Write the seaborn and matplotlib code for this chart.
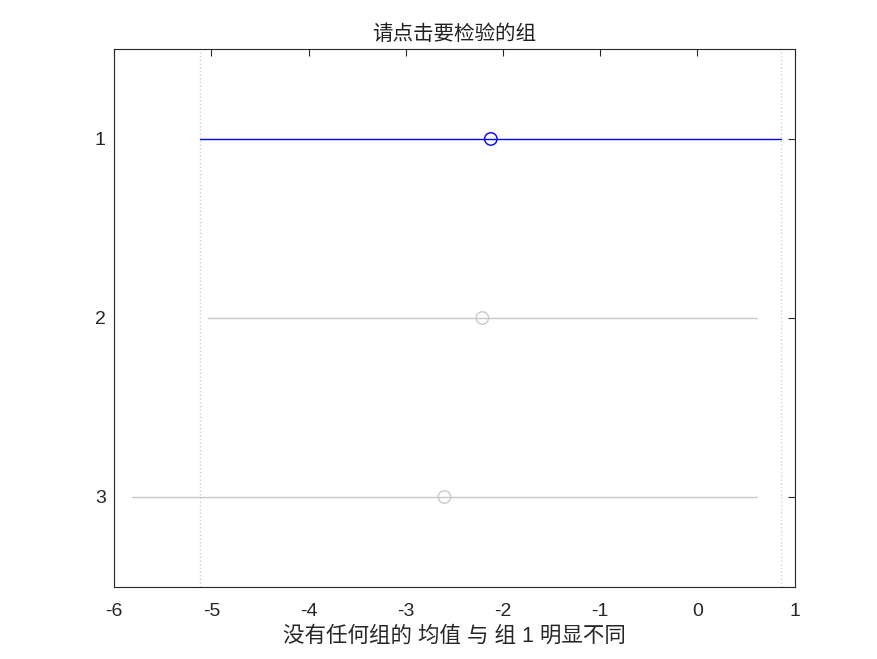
import matplotlib
matplotlib.use("Agg")
import matplotlib.pyplot as plt
import seaborn as sns
import pandas as pd

# 多重比较结果 (组均值估计及置信区间)
groups = [1, 2, 3]
means = [-2.125, -2.212, -2.602]
lower = [-5.113, -5.038, -5.816]
upper = [0.863, 0.613, 0.613]
selected = 1
title = "请点击要检验的组"
xlabel = "没有任何组的 均值 与 组 1 明显不同"
xticks = [-6, -5, -4, -3, -2, -1, 0, 1]

sns.set_style("white")
plt.rcParams['font.family'] = ['Liberation Sans', 'Noto Sans CJK SC', 'DejaVu Sans']

df = pd.DataFrame({"group": groups, "mean": means, "lo": lower, "hi": upper})
df["color"] = ["blue" if g == selected else "#c8c8c8" for g in df["group"]]

fig = plt.figure(figsize=(8.78, 6.59), dpi=100)
ax = fig.add_axes([0.13, 0.11, 0.775, 0.815])

# 区间线
for _, r in df.iterrows():
    ax.plot([r["lo"], r["hi"]], [r["group"], r["group"]], color=r["color"], linewidth=1)

# 均值点
sns.scatterplot(data=df, x="mean", y="group", hue="color",
                palette={c: c for c in df["color"].unique()},
                marker="o", s=80, linewidth=1,
                legend=False, ax=ax)
for coll in ax.collections:
    coll.set_facecolor("none")
    coll.set_edgecolor([c for c in df["color"]])

# 选中组的区间边界
sel = df[df["group"] == selected].iloc[0]
ax.axvline(sel["lo"], color="#cfcfcf", linestyle=":", linewidth=1)
ax.axvline(sel["hi"], color="#cfcfcf", linestyle=":", linewidth=1)

ax.set_xlim(-6, 1)
ax.set_ylim(3.5, 0.5)
ax.set_xticks(xticks)
ax.set_yticks(groups)
ax.set_xticklabels([str(t) for t in xticks])
ax.set_yticklabels([str(g) for g in groups])
ax.tick_params(direction="in", length=5, width=0.8, colors="#262626",
               labelsize=14, top=True, right=True)
ax.tick_params(axis="x", pad=12)
ax.tick_params(axis="y", pad=6)
for s in ax.spines.values():
    s.set_color("#262626")
    s.set_linewidth(0.8)
    s.set_visible(True)

ax.set_title(title, fontsize=14.8, color="#212121", pad=7)
ax.set_xlabel(xlabel, fontsize=15.5, color="#262626", labelpad=4)
ax.set_ylabel("")

fig.savefig("out.png", dpi=100)
